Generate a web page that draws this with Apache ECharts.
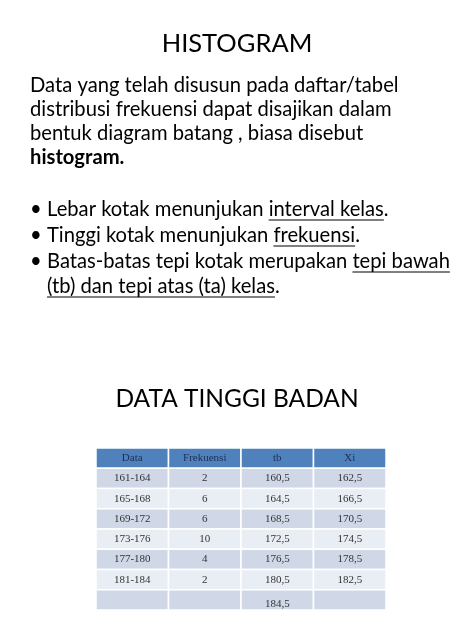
<!DOCTYPE html><html><head><meta charset="utf-8"><script src="https://cdn.jsdelivr.net/npm/echarts@6/dist/echarts.min.js"></script>
<style>html,body{margin:0;background:#fff}#c{width:474px;height:632px}</style></head><body><div id="c"></div><script>
const headers=["Data","Frekuensi","tb","Xi"];
const dataCol=["161-164","165-168","169-172","173-176","177-180","181-184",""];
const frekuensi=["2","6","6","10","4","2",""];
const tb=["160,5","164,5","168,5","172,5","176,5","180,5","184,5"];
const xi=["162,5","166,5","170,5","174,5","178,5","182,5",""];
const cells=[];
headers.forEach((h,c)=>cells.push([c,0,h]));
[dataCol,frekuensi,tb,xi].forEach((col,c)=>col.forEach((v,r)=>cells.push([c,r+1,v])));
const chart=echarts.init(document.getElementById('c'));
const F='Lato, "Open Sans", sans-serif';
const fs=20.2;
const ctx=document.createElement('canvas').getContext('2d');ctx.font=fs+'px '+F;
const W=s=>ctx.measureText(s).width;
function t(x,y,s,size,opt){return {type:'text',left:x,top:y,style:Object.assign({text:s,font:size+'px '+F,fill:'#000'},opt||{})};}
function ul(x,pre,word,y){const a=x+W(pre);return {type:'line',shape:{x1:a,y1:y,x2:a+W(word),y2:y},style:{stroke:'#000',lineWidth:1}};}
chart.setOption({
 animation:false,
 grid:{left:96,right:88,top:448,bottom:22},
 xAxis:{type:'category',data:[0,1,2,3],show:false},
 yAxis:{type:'category',data:[0,1,2,3,4,5,6,7],inverse:true,show:false},
 graphic:[
  {type:'text',left:'center',top:31,style:{text:'HISTOGRAM',font:'25.5px '+F,fill:'#000'}},
  t(30,75,'Data yang telah disusun pada daftar/tabel',fs),
  t(30,99,'distribusi frekuensi dapat disajikan dalam',fs),
  t(30,123,'bentuk diagram batang , biasa disebut',fs),
  t(30,147,'histogram.',fs,{font:'bold '+fs+'px '+F}),
  t(30,199,'•',fs),t(47,199,'Lebar kotak menunjukan interval kelas.',fs),
  t(30,225,'•',fs),t(47,225,'Tinggi kotak menunjukan frekuensi.',fs),
  t(30,251,'•',fs),t(47,251,'Batas-batas tepi kotak merupakan tepi bawah',fs),
  t(47,276,'(tb) dan tepi atas (ta) kelas.',fs),
  ul(47,'Lebar kotak menunjukan ','interval kelas',220),
  ul(47,'Tinggi kotak menunjukan ','frekuensi',246),
  ul(47,'Batas-batas tepi kotak merupakan ','tepi bawah',272),
  ul(47,'','(tb) dan tepi atas (ta) kelas',297),
  {type:'text',left:'center',top:387,style:{text:'DATA TINGGI BADAN',font:'24.5px '+F,fill:'#000'}}
 ],
 series:[{type:'custom',data:cells,renderItem:function(p,api){
  const c=api.value(0),r=api.value(1);const pt=api.coord([c,r]);const sz=api.size([1,1]);
  const fill=r===0?'#4f81bd':(r%2?'#d0d8e8':'#e9edf4');
  return {type:'group',children:[
   {type:'rect',shape:{x:pt[0]-sz[0]/2,y:pt[1]-sz[1]/2,width:sz[0],height:sz[1]},style:{fill:fill,stroke:'#fff',lineWidth:1.5}},
   {type:'text',x:pt[0],y:pt[1]+(r===7?4:0),style:{text:cells[p.dataIndex][2],font:'11px "Liberation Serif", serif',fill:r===0?'#1f2f55':'#333',align:'center',verticalAlign:'middle'}}
  ]};
 }}]
});
</script></body></html>
